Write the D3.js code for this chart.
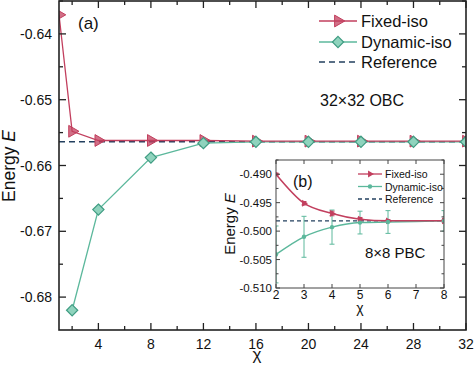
<!DOCTYPE html>
<html><head><meta charset="utf-8">
<script src="https://cdn.jsdelivr.net/npm/d3@7"></script>
<style>body{margin:0;background:#fff}text{font-family:"Liberation Sans",Arial,sans-serif;fill:#111}</style>
</head><body><svg id="c" width="474" height="366"></svg>
<script>
// ---- main panel data (32x32 OBC)
const chiFixed = [1, 2, 4, 8, 12, 16, 20, 24, 28, 32];
const eFixed = [-0.6371, -0.6548, -0.6562, -0.6562, -0.6562, -0.6563, -0.6563, -0.6563, -0.6563, -0.6563];
const chiDyn = [2, 4, 8, 12, 16, 20, 24, 28, 32];
const eDyn = [-0.6820, -0.6667, -0.6588, -0.6566, -0.6564, -0.6564, -0.6564, -0.6564, -0.6564];
const eRef = -0.6564;
const xTicksMain = [4, 8, 12, 16, 20, 24, 28, 32];
const yTicksMain = [-0.64, -0.65, -0.66, -0.67, -0.68];
// ---- inset data (8x8 PBC)
const chiIn = [2, 3, 4, 5, 6, 8];
const eFixedIn = [-0.4900, -0.4951, -0.4969, -0.4979, -0.4982, -0.4982];
const errFixedIn = [0.0002, 0.0003, 0.0004, 0.0003, 0.0002, 0.0002];
const eDynIn = [-0.5041, -0.5010, -0.4993, -0.4985, -0.4984, -0.4982];
const errDynIn = [0.0050, 0.0036, 0.0030, 0.0020, 0.0020, 0.0018];
const eRefIn = -0.4982;
const xTicksIn = [2, 3, 4, 5, 6, 7, 8];
const yTicksIn = [-0.490, -0.495, -0.500, -0.505, -0.510];

const RED = "#c23f5e", TEAL = "#5cb89c", TEALD = "#3f9c82", NAVY = "#23405f";
const svg = d3.select("#c");
svg.append("rect").attr("width", 474).attr("height", 366).attr("fill", "#fff");

// ---------- MAIN
const L = 59, R = 466, T = 1, B = 330;
const x = d3.scaleLinear().domain([1, 32]).range([L, R]);
const y = d3.scaleLinear().domain([-0.685, -0.635]).range([B, T]);
svg.append("clipPath").attr("id", "cm").append("rect").attr("x", L).attr("y", T).attr("width", R - L).attr("height", B - T);
const gm = svg.append("g").attr("clip-path", "url(#cm)");

gm.append("line").attr("x1", L).attr("x2", R).attr("y1", y(eRef)).attr("y2", y(eRef))
  .attr("stroke", NAVY).attr("stroke-width", 1.6).attr("stroke-dasharray", "6,4");
const line = d3.line();
gm.append("path").attr("d", line(chiDyn.map((c, i) => [x(c), y(eDyn[i])])))
  .attr("fill", "none").attr("stroke", TEAL).attr("stroke-width", 1.3);
gm.append("path").attr("d", line(chiFixed.map((c, i) => [x(c), y(eFixed[i])])))
  .attr("fill", "none").attr("stroke", RED).attr("stroke-width", 1.3);
const tri = d3.symbol().type(d3.symbolTriangle).size(60)();
chiFixed.forEach((c, i) => {
  gm.append("path").attr("d", tri).attr("transform", `translate(${x(c)},${y(eFixed[i])}) rotate(90)`)
    .attr("fill", RED).attr("fill-opacity", 0.75).attr("stroke", RED).attr("stroke-width", 1);
});
const dia = d3.symbol().type(d3.symbolDiamond2).size(80)();
chiDyn.forEach((c, i) => {
  gm.append("path").attr("d", dia).attr("transform", `translate(${x(c)},${y(eDyn[i])})`)
    .attr("fill", "#8fd3bd").attr("stroke", TEALD).attr("stroke-width", 1.2);
});

// frame + ticks
svg.append("rect").attr("x", L).attr("y", T).attr("width", R - L).attr("height", B - T)
  .attr("fill", "none").attr("stroke", "#222").attr("stroke-width", 1.6);
const xMinorMain = d3.range(2, 32, 4);
const yMinorMain = [-0.635, -0.645, -0.655, -0.665, -0.675];
const tk = svg.append("g").attr("stroke", "#222").attr("stroke-width", 1.3);
xTicksMain.forEach(v => { tk.append("line").attr("x1", x(v)).attr("x2", x(v)).attr("y1", B).attr("y2", B - 7);
  tk.append("line").attr("x1", x(v)).attr("x2", x(v)).attr("y1", T).attr("y2", T + 7); });
xMinorMain.forEach(v => { tk.append("line").attr("x1", x(v)).attr("x2", x(v)).attr("y1", B).attr("y2", B - 4);
  tk.append("line").attr("x1", x(v)).attr("x2", x(v)).attr("y1", T).attr("y2", T + 4); });
yTicksMain.forEach(v => { tk.append("line").attr("x1", L).attr("x2", L + 7).attr("y1", y(v)).attr("y2", y(v));
  tk.append("line").attr("x1", R).attr("x2", R - 7).attr("y1", y(v)).attr("y2", y(v)); });
yMinorMain.forEach(v => { tk.append("line").attr("x1", L).attr("x2", L + 4).attr("y1", y(v)).attr("y2", y(v));
  tk.append("line").attr("x1", R).attr("x2", R - 4).attr("y1", y(v)).attr("y2", y(v)); });
xTicksMain.forEach(v => svg.append("text").attr("x", x(v)).attr("y", 349).attr("text-anchor", "middle")
  .attr("font-size", 14).text(v));
yTicksMain.forEach(v => svg.append("text").attr("x", 52).attr("y", y(v) + 5).attr("text-anchor", "end")
  .attr("font-size", 14).text(v.toFixed(2)));
svg.append("text").attr("x", 257).attr("y", 360).attr("text-anchor", "middle").attr("font-size", 17).text("χ");
svg.append("text").attr("transform", "translate(15,166) rotate(-90)").attr("text-anchor", "middle")
  .attr("font-size", 17.5).html('Energy <tspan font-style="italic">E</tspan>');
svg.append("text").attr("x", 78).attr("y", 29).attr("font-size", 17).text("(a)");
svg.append("text").attr("x", 320).attr("y", 106).attr("font-size", 16).text("32×32 OBC");

// main legend
const lgx1 = 319, lgx2 = 357;
const lg = [["Fixed-iso", 21], ["Dynamic-iso", 42], ["Reference", 62]];
svg.append("line").attr("x1", lgx1).attr("x2", lgx2).attr("y1", 21).attr("y2", 21).attr("stroke", RED).attr("stroke-width", 1.3);
svg.append("path").attr("d", tri).attr("transform", `translate(${(lgx1 + lgx2) / 2},21) rotate(90)`)
  .attr("fill", RED).attr("fill-opacity", 0.75).attr("stroke", RED);
svg.append("line").attr("x1", lgx1).attr("x2", lgx2).attr("y1", 42).attr("y2", 42).attr("stroke", TEAL).attr("stroke-width", 1.3);
svg.append("path").attr("d", dia).attr("transform", `translate(${(lgx1 + lgx2) / 2},42)`)
  .attr("fill", "#8fd3bd").attr("stroke", TEALD).attr("stroke-width", 1.2);
svg.append("line").attr("x1", lgx1).attr("x2", lgx2).attr("y1", 62).attr("y2", 62).attr("stroke", NAVY)
  .attr("stroke-width", 1.6).attr("stroke-dasharray", "6,4");
lg.forEach(([t, yy]) => svg.append("text").attr("x", 361).attr("y", yy + 6).attr("font-size", 16.5).text(t));

// ---------- INSET
const iL = 276, iR = 444, iT = 160, iB = 288;
const xi = d3.scaleLinear().domain([2, 8]).range([iL, iR]);
const yi = d3.scaleLinear().domain([-0.510, -0.4875]).range([iB, iT]);
svg.append("rect").attr("x", iL).attr("y", iT).attr("width", iR - iL).attr("height", iB - iT).attr("fill", "#fff");
svg.append("clipPath").attr("id", "ci").append("rect").attr("x", iL).attr("y", iT).attr("width", iR - iL).attr("height", iB - iT);
const gi = svg.append("g").attr("clip-path", "url(#ci)");
gi.append("line").attr("x1", iL).attr("x2", iR).attr("y1", yi(eRefIn)).attr("y2", yi(eRefIn))
  .attr("stroke", NAVY).attr("stroke-width", 1.3).attr("stroke-dasharray", "4,3");
// error bars
chiIn.forEach((c, i) => {
  [[eDynIn[i], errDynIn[i], TEAL], [eFixedIn[i], errFixedIn[i], RED]].forEach(([v, e, col]) => {
    gi.append("line").attr("x1", xi(c)).attr("x2", xi(c)).attr("y1", yi(v - e)).attr("y2", yi(v + e)).attr("stroke", col).attr("stroke-width", 1);
    [v - e, v + e].forEach(w => gi.append("line").attr("x1", xi(c) - 2.5).attr("x2", xi(c) + 2.5).attr("y1", yi(w)).attr("y2", yi(w)).attr("stroke", col).attr("stroke-width", 1));
  });
});
const curve = d3.line().curve(d3.curveMonotoneX);
gi.append("path").attr("d", curve(chiIn.map((c, i) => [xi(c), yi(eDynIn[i])])))
  .attr("fill", "none").attr("stroke", TEAL).attr("stroke-width", 1.5);
gi.append("path").attr("d", curve(chiIn.map((c, i) => [xi(c), yi(eFixedIn[i])])))
  .attr("fill", "none").attr("stroke", RED).attr("stroke-width", 1.5);
const triS = d3.symbol().type(d3.symbolTriangle).size(20)();
chiIn.forEach((c, i) => {
  gi.append("path").attr("d", triS).attr("transform", `translate(${xi(c)},${yi(eFixedIn[i])}) rotate(90)`).attr("fill", RED);
  gi.append("circle").attr("cx", xi(c)).attr("cy", yi(eDynIn[i])).attr("r", 2.2).attr("fill", TEAL);
});
svg.append("rect").attr("x", iL).attr("y", iT).attr("width", iR - iL).attr("height", iB - iT)
  .attr("fill", "none").attr("stroke", "#444").attr("stroke-width", 1);
const ti = svg.append("g").attr("stroke", "#444").attr("stroke-width", 1);
xTicksIn.forEach(v => { ti.append("line").attr("x1", xi(v)).attr("x2", xi(v)).attr("y1", iB).attr("y2", iB - 4);
  ti.append("line").attr("x1", xi(v)).attr("x2", xi(v)).attr("y1", iT).attr("y2", iT + 4); });
const yMinorIn = [-0.4875, -0.4925, -0.4975, -0.5025, -0.5075];
yTicksIn.forEach(v => { ti.append("line").attr("x1", iL).attr("x2", iL + 4).attr("y1", yi(v)).attr("y2", yi(v));
  ti.append("line").attr("x1", iR).attr("x2", iR - 4).attr("y1", yi(v)).attr("y2", yi(v)); });
yMinorIn.forEach(v => { ti.append("line").attr("x1", iL).attr("x2", iL + 2.5).attr("y1", yi(v)).attr("y2", yi(v));
  ti.append("line").attr("x1", iR).attr("x2", iR - 2.5).attr("y1", yi(v)).attr("y2", yi(v)); });
xTicksIn.forEach(v => svg.append("text").attr("x", xi(v)).attr("y", 299).attr("text-anchor", "middle")
  .attr("font-size", 12).text(v));
yTicksIn.forEach(v => svg.append("text").attr("x", 272).attr("y", yi(v) + 4).attr("text-anchor", "end")
  .attr("font-size", 11.5).text(v.toFixed(3)));
svg.append("text").attr("x", 360).attr("y", 313).attr("text-anchor", "middle").attr("font-size", 14).text("χ");
svg.append("text").attr("transform", "translate(235,224) rotate(-90)").attr("text-anchor", "middle")
  .attr("font-size", 15).html('Energy <tspan font-style="italic">E</tspan>');
svg.append("text").attr("x", 293).attr("y", 187).attr("font-size", 16).text("(b)");
svg.append("text").attr("x", 365).attr("y", 258).attr("font-size", 15).text("8×8 PBC");
// inset legend
const ilx1 = 358, ilx2 = 382;
svg.append("line").attr("x1", ilx1).attr("x2", ilx2).attr("y1", 174).attr("y2", 174).attr("stroke", RED).attr("stroke-width", 1.3);
svg.append("path").attr("d", triS).attr("transform", `translate(${(ilx1 + ilx2) / 2},174) rotate(90)`).attr("fill", RED);
svg.append("line").attr("x1", ilx1).attr("x2", ilx2).attr("y1", 186.5).attr("y2", 186.5).attr("stroke", TEAL).attr("stroke-width", 1.3);
svg.append("circle").attr("cx", (ilx1 + ilx2) / 2).attr("cy", 186.5).attr("r", 2.2).attr("fill", TEAL);
svg.append("line").attr("x1", ilx1).attr("x2", ilx2).attr("y1", 199).attr("y2", 199).attr("stroke", NAVY)
  .attr("stroke-width", 1.3).attr("stroke-dasharray", "4,3");
[["Fixed-iso", 174], ["Dynamic-iso", 186.5], ["Reference", 199]].forEach(([t, yy]) =>
  svg.append("text").attr("x", 385).attr("y", yy + 4).attr("font-size", 10.5).text(t));
</script></body></html>
